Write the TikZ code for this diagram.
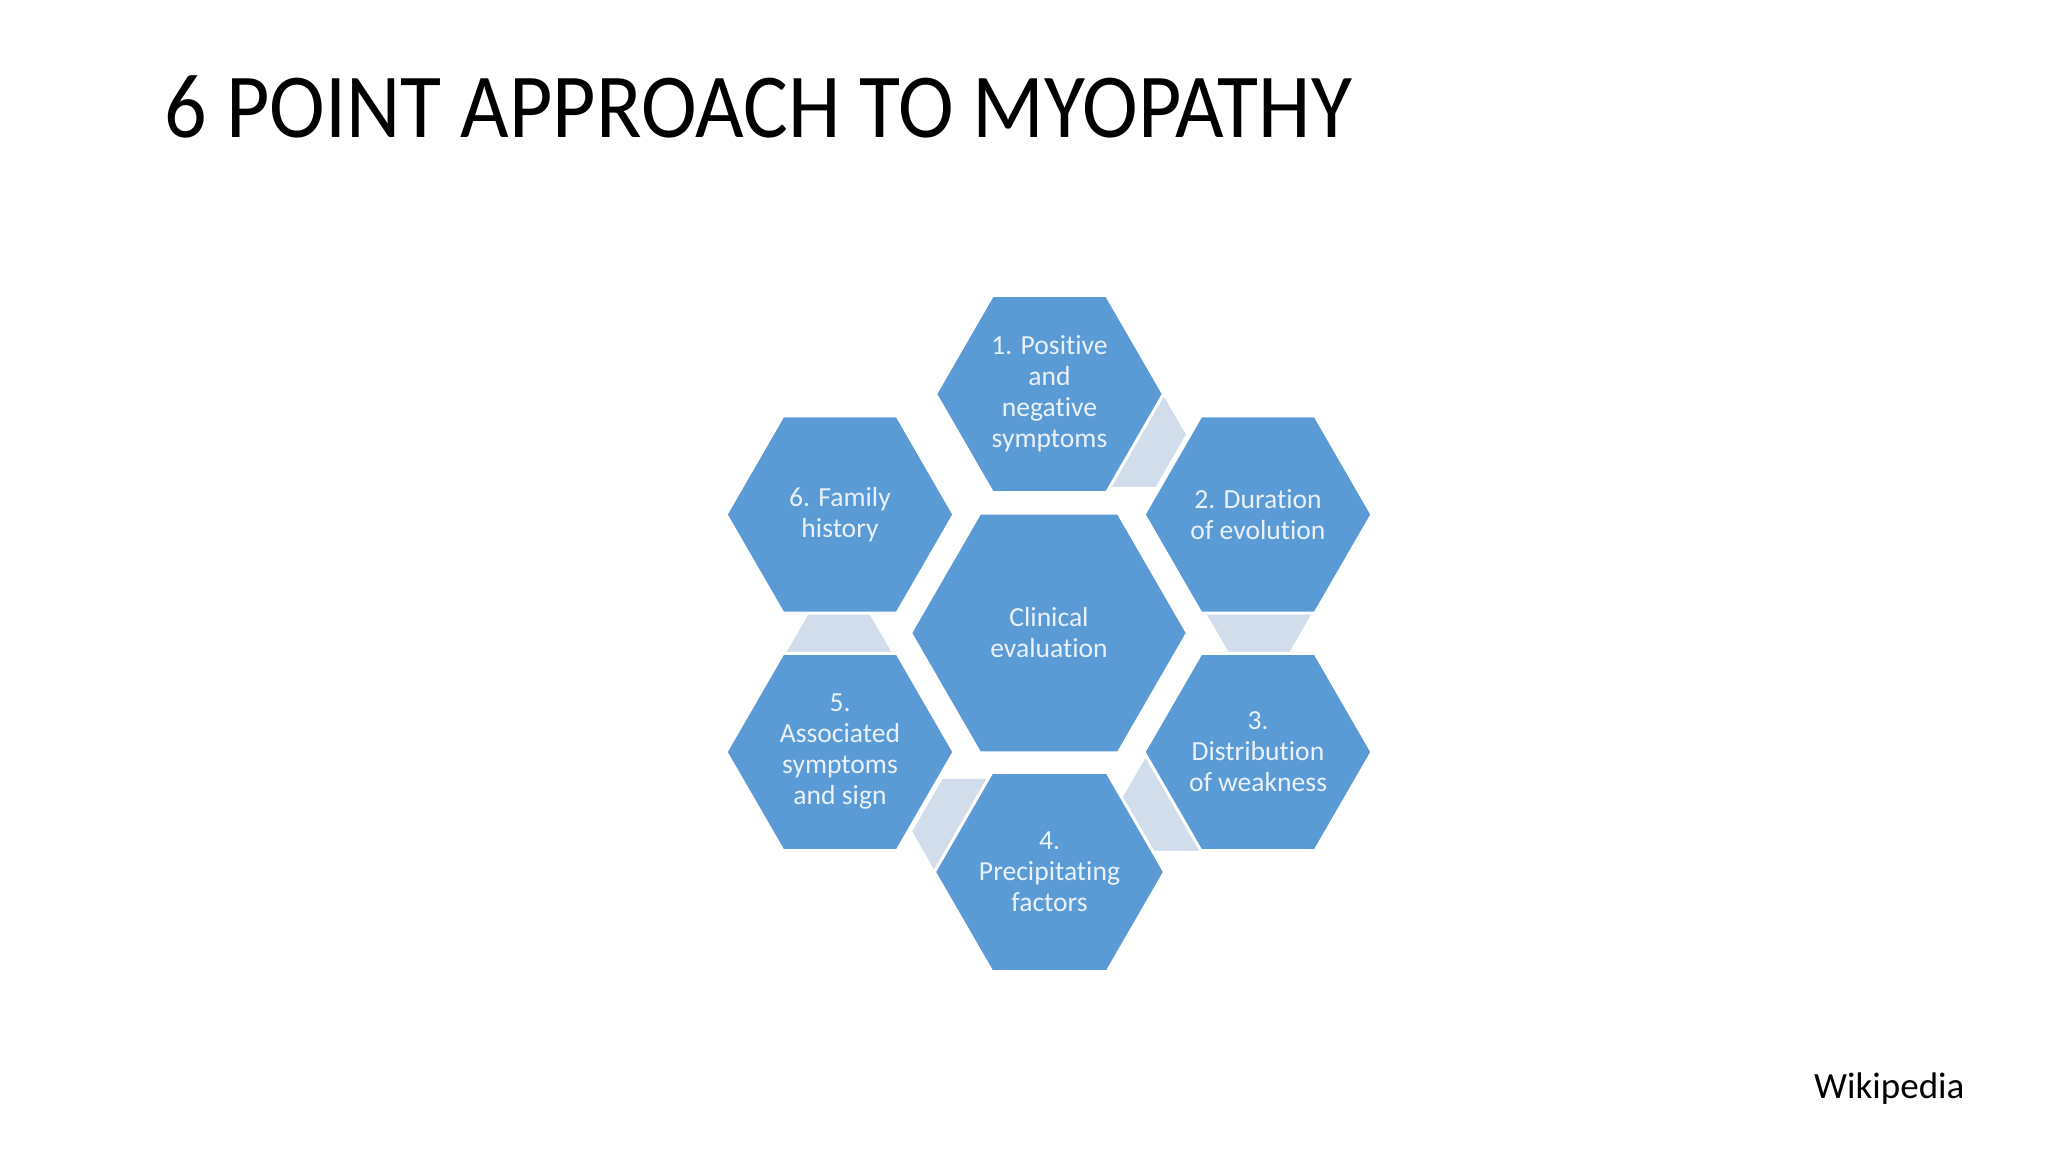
\documentclass[tikz,border=0pt]{standalone}
\usepackage{fontspec}
\setmainfont{Carlito}[Ligatures=NoCommon]
\usetikzlibrary{shapes.geometric}
\definecolor{hexblue}{RGB}{91,155,213}
\definecolor{linkfill}{RGB}{210,221,235}
\definecolor{hextxt}{RGB}{234,241,250}
\begin{document}
\begin{tikzpicture}[x=1pt,y=-1pt,
  hexbase/.style={regular polygon, regular polygon sides=6, inner sep=0pt, outer sep=0pt, draw=white, line width=3pt},
  hexouter/.style={hexbase, minimum size=228pt, fill=hexblue, text=hextxt, align=center,
     font=\fontsize{27.6pt}{31pt}\selectfont},
  hexcentre/.style={hexouter, minimum size=277pt},
  hexlink/.style={hexbase, minimum size=125pt, fill=linkfill}]
\useasboundingbox (0,0) rectangle (2048,1152);
\fill[white] (0,0) rectangle (2048,1152);

% title and source
\node[anchor=base west, inner sep=0pt, font=\fontsize{91.5pt}{100pt}\selectfont] (title) at (164.6,137)
  {\scalebox{0.918}[1]{6 POINT APPROACH TO MYOPATHY}};
\node[anchor=base west, inner sep=0pt, font=\fontsize{37pt}{42pt}\selectfont] (source) at (1814,1098) {Wikipedia};

% linking hexagons (behind)
\node[hexlink] (l12) at (1125.2,434.5) {};
\node[hexlink] (l23) at (1259,599.7) {};
\node[hexlink] (l34) at (1182.8,798.2) {};
\node[hexlink] (l45) at (972.8,831.5) {};
\node[hexlink] (l56) at (839,666.3) {};

% outer hexagons
\node[hexouter] (h1) at (1049.5,394) {1. Positive\\and\\negative\\symptoms};
\node[hexouter] (h2) at (1258,514.5) {2. Duration\\of evolution};
\node[hexouter] (h3) at (1258,752) {3.\\Distribution\\of weakness};
\node[hexouter] (h4) at (1049.5,872) {4.\\Precipitating\\factors};
\node[hexouter] (h5) at (840,752) {5.\\Associated\\symptoms\\and sign};
\node[hexouter] (h6) at (840,514.5) {6. Family\\history};

% centre
\node[hexcentre] (c) at (1049,633) {Clinical\\evaluation};
\end{tikzpicture}
\end{document}
